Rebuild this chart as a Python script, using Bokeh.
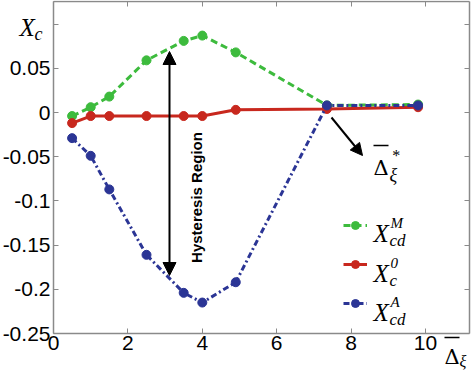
from bokeh.plotting import figure
from bokeh.models import (Range1d, LinearAxis, FixedTicker, Label, Arrow, NormalHead,
                          Legend, LegendItem, BoxAnnotation)
from bokeh.embed import file_html
from bokeh.resources import INLINE

# ---------------- data ----------------
delta_xi = [0.5, 1.0, 1.5, 2.5, 3.5, 4.0, 4.9, 7.35, 9.8]
x_cd_M = [-0.004, 0.006, 0.018, 0.059, 0.081, 0.087, 0.068, 0.008, 0.009]
x_c_0 = [-0.012, -0.004, -0.004, -0.004, -0.004, -0.004, 0.003, 0.004, 0.006]
x_cd_A = [-0.029, -0.049, -0.087, -0.161, -0.204, -0.215, -0.192, 0.008, 0.008]

x_ticks = [0, 2, 4, 6, 8, 10]
y_ticks = [-0.25, -0.2, -0.15, -0.1, -0.05, 0.0, 0.05, 0.1]
y_tick_labels = ["-0.25", "-0.2", "-0.15", "-0.1", "-0.05", "0", "0.05", ""]

GREEN = "#3dbb3d"
RED = "#c8281e"
BLUE = "#2b3595"
FRAME = "#8a8a8a"

W, H = 474, 372


# reference-pixel -> data helpers (for annotation placement only)
def dx(px):
    return (px - 53) / 37.2


def dy(py):
    return (112 - py) / 884.0


X_LEFT, X_RIGHT = 0.0, dx(469)
Y_BOTTOM, Y_TOP = -0.25, dy(0.8)

# the frame covers the whole canvas; the axes are pinned at the box edges
p = figure(width=W, height=H, x_range=Range1d(dx(0), dx(W)), y_range=Range1d(dy(H), dy(0)),
           output_backend="svg", toolbar_location=None,
           min_border_left=0, min_border_right=0, min_border_top=0, min_border_bottom=0)
p.xgrid.visible = False
p.ygrid.visible = False
p.outline_line_color = None
p.background_fill_color = "white"
p.border_fill_color = "white"

for ax in p.xaxis:
    ax.ticker = FixedTicker(ticks=x_ticks)
    ax.fixed_location = Y_BOTTOM
    ax.bounds = (X_LEFT, X_RIGHT)
for ax in p.yaxis:
    ax.ticker = FixedTicker(ticks=y_ticks)
    ax.major_label_overrides = {t: l for t, l in zip(y_ticks, y_tick_labels)}
    ax.fixed_location = X_LEFT
    ax.bounds = (Y_BOTTOM, Y_TOP)

for ax in list(p.xaxis) + list(p.yaxis):
    ax.major_tick_in = 5
    ax.major_tick_out = 0
    ax.minor_tick_line_color = None
    ax.axis_line_color = FRAME
    ax.axis_line_width = 1.5
    ax.major_tick_line_color = FRAME
    ax.major_label_text_font = "Liberation Sans"
    ax.major_label_text_font_size = "21px"
    ax.major_label_text_color = "black"
for ax in p.xaxis:
    ax.major_label_standoff = 2
for ax in p.yaxis:
    ax.major_label_standoff = 3

top_ax = LinearAxis(ticker=FixedTicker(ticks=x_ticks), major_label_text_font_size="1px",
                    major_label_standoff=0, major_tick_in=5, major_tick_out=0,
                    minor_tick_line_color=None, axis_line_color=FRAME, axis_line_width=1.5,
                    major_tick_line_color=FRAME, major_label_overrides={t: "" for t in x_ticks},
                    fixed_location=Y_TOP, bounds=(X_LEFT, X_RIGHT))
right_ax = LinearAxis(ticker=FixedTicker(ticks=y_ticks), major_label_text_font_size="1px",
                      major_label_standoff=0, major_tick_in=5, major_tick_out=0,
                      minor_tick_line_color=None, axis_line_color=FRAME, axis_line_width=1.5,
                      major_tick_line_color=FRAME, major_label_overrides={t: "" for t in y_ticks},
                      fixed_location=X_RIGHT, bounds=(Y_BOTTOM, Y_TOP))
p.add_layout(top_ax, "above")
p.add_layout(right_ax, "right")

# ---------------- series ----------------
gl = p.line(delta_xi, x_cd_M, line_color=GREEN, line_width=3, line_dash="7 4")
gs = p.scatter(delta_xi, x_cd_M, size=9, fill_color=GREEN, line_color=GREEN)
rl = p.line(delta_xi, x_c_0, line_color=RED, line_width=3)
rs = p.scatter(delta_xi, x_c_0, size=9, fill_color=RED, line_color=RED)
bl = p.line(delta_xi, x_cd_A, line_color=BLUE, line_width=3, line_dash="6 3 2 3")
bs = p.scatter(delta_xi, x_cd_A, size=9, fill_color=BLUE, line_color=BLUE)

legend = Legend(items=[LegendItem(label=" ", renderers=[gl, gs]),
                       LegendItem(label=" ", renderers=[rl, rs]),
                       LegendItem(label=" ", renderers=[bl, bs])],
                location=(343, H - 313), padding=0, margin=0, spacing=19,
                glyph_height=20, glyph_width=24, label_width=1, label_standoff=0,
                label_height=20, label_text_font_size="8px",
                border_line_color=None, background_fill_alpha=0)
p.add_layout(legend)


# ---------------- math-like labels ----------------
def mlabel(x, y, base, sub=None, sup=None, size=25, small=17, bw=16,
           sub_dy=-7, sup_dy=11, font="Liberation Serif", style="italic",
           sub_font="Liberation Serif", sup_dx=1):
    p.add_layout(Label(x=x, y=y, text=base, text_font=font, text_font_size=f"{size}px",
                       text_font_style=style, text_baseline="alphabetic", text_align="left",
                       text_color="black"))
    if sub:
        p.add_layout(Label(x=x, y=y, x_offset=bw, y_offset=sub_dy, text=sub, text_font=sub_font,
                           text_font_size=f"{small}px", text_font_style="italic",
                           text_baseline="alphabetic", text_align="left", text_color="black"))
    if sup:
        p.add_layout(Label(x=x, y=y, x_offset=bw + sup_dx, y_offset=sup_dy, text=sup,
                           text_font=sub_font, text_font_size=f"{small - 2}px",
                           text_font_style="italic", text_baseline="alphabetic",
                           text_align="left", text_color="black"))


def bar(px0, px1, py):
    p.add_layout(BoxAnnotation(left=dx(px0), right=dx(px1), top=dy(py - 0.8), bottom=dy(py + 0.8),
                               fill_color="black", fill_alpha=1, line_color=None))


# legend labels
mlabel(dx(373), dy(233), "X", "cd", "M")
mlabel(dx(373), dy(273), "X", "c", "0")
mlabel(dx(373), dy(312), "X", "cd", "A")

# y axis label
mlabel(dx(19), dy(27), "X", "c", None, size=25, small=18, bw=15, sub_dy=-6)

# x axis label
mlabel(dx(444), dy(356), "Δ", "ξ", None, size=21, small=16, bw=15, sub_dy=-5,
       font="DejaVu Serif", style="normal")
bar(444, 459, 337)

# threshold label
mlabel(dx(373), dy(167), "Δ", "ξ", "*", size=21, small=18, bw=16, sub_dy=-7,
       sup_dy=12, font="DejaVu Serif", style="normal", sup_dx=2)
bar(373, 388, 145)

# ---------------- arrows ----------------
p.add_layout(Arrow(start=NormalHead(size=13, fill_color="black", line_color="black"),
                   end=NormalHead(size=13, fill_color="black", line_color="black"),
                   x_start=dx(169), y_start=dy(275), x_end=dx(169), y_end=dy(51),
                   line_width=2, line_color="black"))
p.add_layout(Arrow(end=NormalHead(size=12, fill_color="black", line_color="black"),
                   x_start=dx(331), y_start=dy(117), x_end=dx(362), y_end=dy(155),
                   line_width=2, line_color="black"))
p.add_layout(Label(x=dx(196), y=dy(197), text="Hysteresis Region", angle=90, angle_units="deg",
                   text_align="center", text_baseline="middle", text_font="Liberation Sans",
                   text_font_size="15px", text_font_style="bold", text_color="black"))

open("out.html", "w").write(file_html(p, INLINE))
